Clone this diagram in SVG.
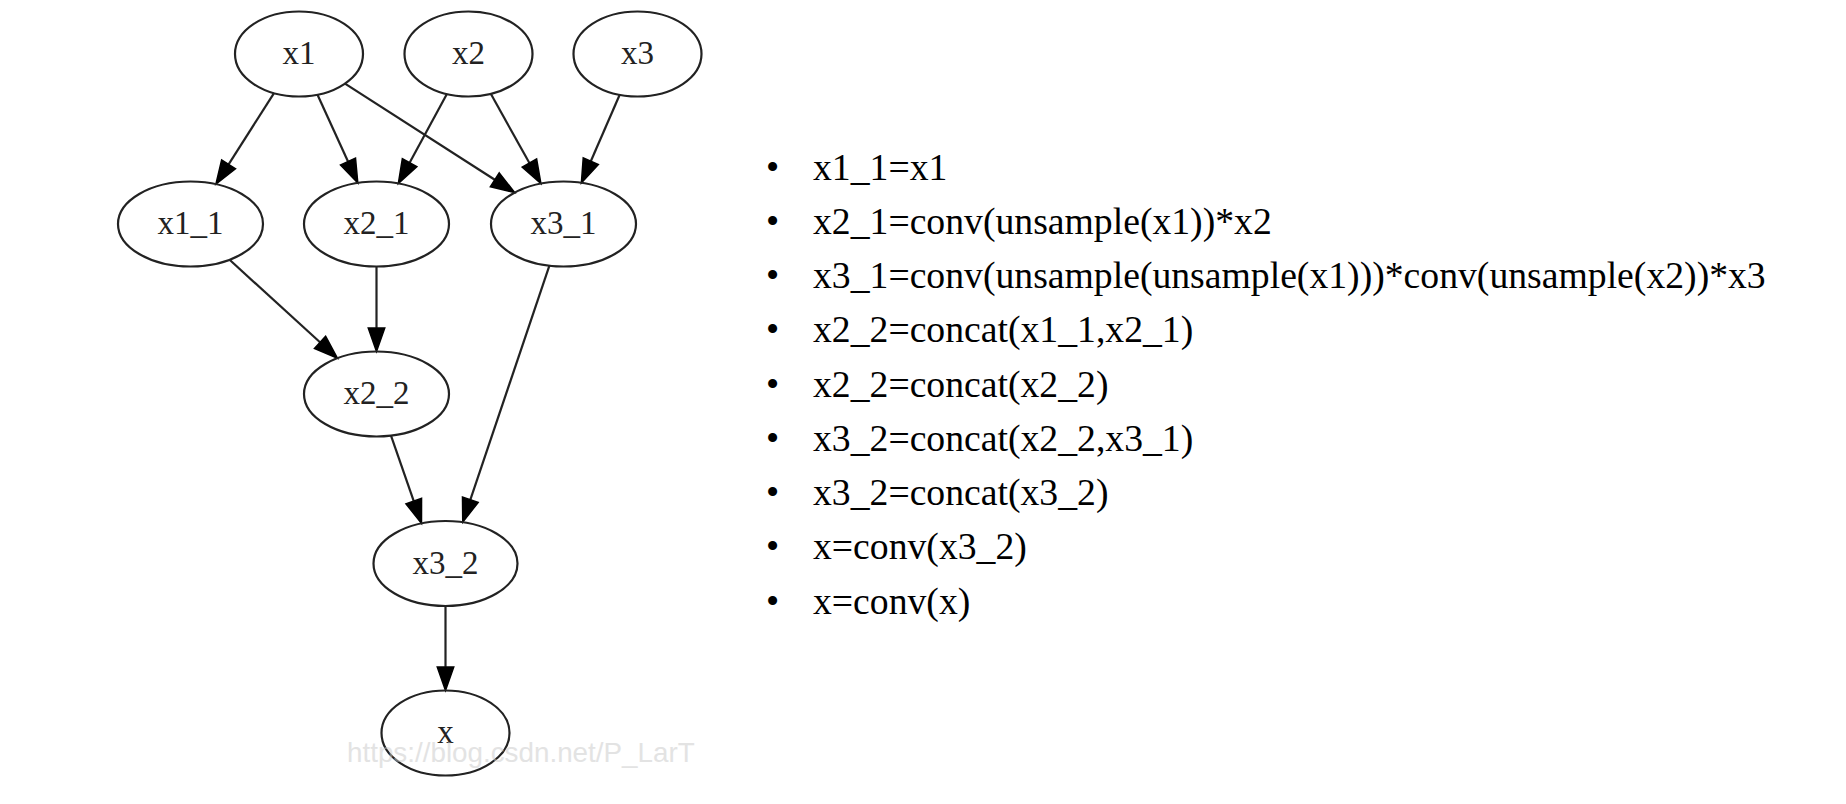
<svg xmlns="http://www.w3.org/2000/svg" width="1846" height="804" viewBox="0 0 1846 804">
<defs>
<style>
.node ellipse{fill:none;stroke:#222;stroke-width:2.2}
.node text{font-family:"Liberation Serif","Times New Roman",serif;font-size:33px;fill:#222;text-anchor:middle}
.edges line{stroke:#222;stroke-width:2.2;marker-end:url(#arr)}
.list text{font-family:"Liberation Serif","Times New Roman",serif;font-size:37.7px;fill:#000}
.wm{font-family:"Liberation Sans",Arial,sans-serif;font-size:27.8px;fill:#c8c8c8;opacity:0.5}
</style>
<marker id="arr" markerUnits="userSpaceOnUse" markerWidth="30" markerHeight="22" refX="0" refY="9" orient="auto" overflow="visible">
<path d="M0,0.75 L23.6,9 L0,17.25 Z" fill="#000" stroke="#000" stroke-width="1.5"/>
</marker>
</defs>
<rect width="1846" height="804" fill="#fff"/>
<g id="connectors" class="edges">
<line x1="274.0" y1="93.1" x2="228.6" y2="164.3"/>
<line x1="317.5" y1="94.7" x2="348.0" y2="161.5"/>
<line x1="345.0" y1="83.6" x2="494.8" y2="179.8"/>
<line x1="446.9" y1="94.0" x2="409.6" y2="162.7"/>
<line x1="490.8" y1="93.8" x2="529.4" y2="163.0"/>
<line x1="619.7" y1="94.8" x2="590.8" y2="161.2"/>
<line x1="229.6" y1="259.8" x2="320.0" y2="342.3"/>
<line x1="376.5" y1="266.5" x2="376.5" y2="327.9"/>
<line x1="549.4" y1="265.7" x2="470.3" y2="499.8"/>
<line x1="391.0" y1="435.6" x2="413.75" y2="501.1"/>
<line x1="445.5" y1="606" x2="445.5" y2="666.9"/>
</g>
<g id="node-x1" class="node"><ellipse cx="299" cy="54" rx="64" ry="42.5"/><text x="299" y="64">x1</text></g>
<g id="node-x2" class="node"><ellipse cx="468.5" cy="54" rx="64" ry="42.5"/><text x="468.5" y="64">x2</text></g>
<g id="node-x3" class="node"><ellipse cx="637.5" cy="54" rx="64" ry="42.5"/><text x="637.5" y="64">x3</text></g>
<g id="node-x1_1" class="node"><ellipse cx="190.5" cy="224" rx="72.5" ry="42.5"/><text x="190.5" y="234">x1_1</text></g>
<g id="node-x2_1" class="node"><ellipse cx="376.5" cy="224" rx="72.5" ry="42.5"/><text x="376.5" y="234">x2_1</text></g>
<g id="node-x3_1" class="node"><ellipse cx="563.5" cy="224" rx="72.5" ry="42.5"/><text x="563.5" y="234">x3_1</text></g>
<g id="node-x2_2" class="node"><ellipse cx="376.5" cy="394" rx="72.5" ry="42.5"/><text x="376.5" y="404">x2_2</text></g>
<g id="node-x3_2" class="node"><ellipse cx="445.5" cy="563.5" rx="72" ry="42.5"/><text x="445.5" y="573.5">x3_2</text></g>
<g id="node-x" class="node"><ellipse cx="445.5" cy="733" rx="64" ry="42.5"/><text x="445.5" y="743">x</text></g>
<g id="list" class="list">
<text x="766" y="179.5">•</text><text x="813" y="179.5">x1_1=x1</text>
<text x="766" y="233.75">•</text><text x="813" y="233.75">x2_1=conv(unsample(x1))*x2</text>
<text x="766" y="288">•</text><text x="813" y="288">x3_1=conv(unsample(unsample(x1)))*conv(unsample(x2))*x3</text>
<text x="766" y="342.25">•</text><text x="813" y="342.25">x2_2=concat(x1_1,x2_1)</text>
<text x="766" y="396.5">•</text><text x="813" y="396.5">x2_2=concat(x2_2)</text>
<text x="766" y="450.75">•</text><text x="813" y="450.75">x3_2=concat(x2_2,x3_1)</text>
<text x="766" y="505">•</text><text x="813" y="505">x3_2=concat(x3_2)</text>
<text x="766" y="559.25">•</text><text x="813" y="559.25">x=conv(x3_2)</text>
<text x="766" y="613.5">•</text><text x="813" y="613.5">x=conv(x)</text>
</g>
<text class="wm" x="347" y="762">https://blog.csdn.net/P_LarT</text>
</svg>
